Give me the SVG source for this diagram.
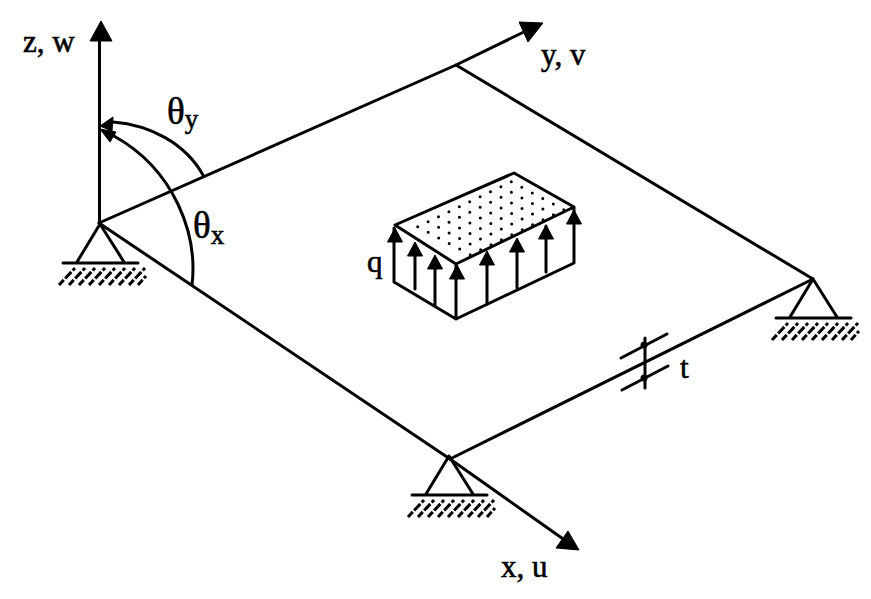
<svg xmlns="http://www.w3.org/2000/svg" width="871" height="599" viewBox="0 0 871 599">
<style>
.l{fill:none;stroke:#000;stroke-width:3;stroke-linecap:round;stroke-linejoin:round}
.h{fill:#000;stroke:#000;stroke-width:1;stroke-linejoin:round}
.t{font-family:"Liberation Serif","Times New Roman",serif;fill:#000;font-size:31px;stroke:#000;stroke-width:.6}
.b{font-size:37px}
.s{font-size:27px}
.d{fill:none;stroke:#000;stroke-width:3;stroke-linecap:round}
</style>
<defs>
<g id="support">
<path class="l" d="M0 0L-23 38M0 0L24 38M-37 39H38"/>
<path fill="none" stroke="#000" stroke-width="3" stroke-dasharray="7 2 9 2" d="M-41 61L-25 44M-31 61L-15 44M-21 61L-5 44M-11 61L5 44M-1 61L15 44M9 61L25 44M19 61L35 44M29 61L45 44M38 61L46 52"/>
</g>
<path id="row" class="d" d="M417.7 226.7h0m10.4-5h0m10.4-5h0m10.4-5h0m10.4-5h0m10.4-5h0m10.4-5h0m10.4-5h0m10.4-5h0m10.4-5h0"/>
<g id="up"><path class="h" d="M0 0L7.5 14H-7.5Z"/></g>
</defs>
<g id="connectors">
<path class="l" d="M99.5 223V40"/>
<path class="h" d="M101 21L112 41H90Z"/>
<path class="l" d="M99 223L456 65L530 29"/>
<path class="h" d="M543 23L519 22L528 42Z"/>
<path class="l" d="M450 459L566 541"/>
<path class="h" d="M579 550L556 548L568 531Z"/>
<path class="l" d="M203 175C185 143 150 125 113 122"/>
<path class="h" d="M100 126L113 117L112 131Z"/>
<path class="l" d="M192 285C198 235 175 170 114 136"/>
<path class="h" d="M100 129L116 132L110 142Z"/>
</g>
<g id="plate">
<path class="l" d="M456 65L813 279L450 459L99 223"/>
</g>
<g id="thickness">
<path class="l" d="M645 338V388M621 358L667 334M622 390L668 366"/>
<circle cx="644" cy="345" r="3.5"/>
<circle cx="644" cy="378" r="3.5"/>
</g>
<use id="support-left" href="#support" x="100" y="224"/>
<use id="support-right" href="#support" x="813" y="279"/>
<use id="support-bottom" href="#support" x="449" y="456"/>
<g id="load-block">
<path class="l" d="M395 225L514 173L574 207L456 264ZM394 228V282L456 319L574 263V207M456 264V319"/>
<use href="#row"/>
<use href="#row" x="10.5" y="5.6"/>
<use href="#row" x="21" y="11.2"/>
<use href="#row" x="31.5" y="16.8"/>
<use href="#row" x="42" y="22.4"/>
<use href="#row" x="52.5" y="28"/>
<path class="l" d="M415 245V289M435 258V305M487 265V304M517 246V288M546 226V272"/>
<use href="#up" x="395" y="228"/>
<use href="#up" x="415" y="242"/>
<use href="#up" x="435" y="255"/>
<use href="#up" x="457" y="265"/>
<use href="#up" x="487" y="251"/>
<use href="#up" x="517" y="238"/>
<use href="#up" x="546" y="225"/>
<use href="#up" x="574" y="210"/>
</g>
<g id="labels">
<text class="t" x="23" y="52">z, w</text>
<text class="t" x="541" y="65">y, v</text>
<text class="t" x="501" y="577">x, u</text>
<text class="t" x="367" y="272">q</text>
<text class="t" x="680" y="378">t</text>
<text class="t" x="167" y="124"><tspan class="b">θ</tspan><tspan class="s" dy="4">y</tspan></text>
<text class="t" x="193" y="238"><tspan class="b">θ</tspan><tspan class="s" dy="6">x</tspan></text>
</g>
</svg>
